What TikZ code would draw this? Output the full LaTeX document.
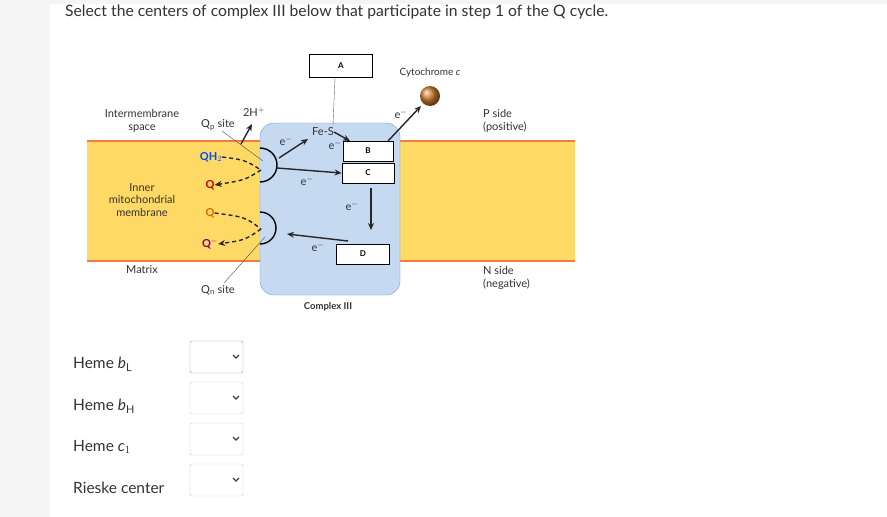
\documentclass[tikz,border=0pt]{standalone}
\usepackage{fontspec}
\setmainfont{Lato}
\usetikzlibrary{arrows.meta}
\definecolor{memb}{HTML}{FFD966}
\definecolor{orl}{HTML}{F47C3C}
\definecolor{cx}{HTML}{C5DAF0}
\definecolor{cxb}{HTML}{6A9FCF}
\definecolor{txt}{HTML}{333333}
\begin{document}
\begin{tikzpicture}[x=1pt,y=-1pt,
  lab/.style={font=\fontsize{11}{12.5}\selectfont,text=txt,align=center,inner sep=0},
  smallbox/.style={draw,thick,fill=white,font=\fontsize{8}{9}\selectfont\bfseries,inner sep=0},
  arr/.style={-{Stealth[length=7pt,width=6pt]},line width=1.4pt,black!85},
  dsh/.style={line width=1.4pt,dash pattern=on 4pt off 3pt,black!85},
  darr/.style={dsh,-{Stealth[length=7pt,width=6pt]}},
  dd/.style={draw=black!20,rounded corners=2pt,minimum width=53pt,minimum height=32pt,inner sep=0},
  q/.style={font=\fontsize{11}{12}\selectfont\bfseries,inner sep=0},
  big/.style={font=\fontsize{15.5}{17}\selectfont,text=txt,inner sep=0,anchor=west}]
\useasboundingbox (0,0) rectangle (887,517);
\fill[black!4] (0,0) rectangle (887,517);
\fill[white] (50,4) rectangle (887,517);
\node[anchor=west,font=\fontsize{15.7}{17}\selectfont,text=txt,inner sep=0] (title) at (65,12) {Select the centers of complex III below that participate in step 1 of the Q cycle.};
% membrane
\fill[memb] (87,140) rectangle (575,262);
\draw[orl,line width=2.5pt] (87,141) -- (575,141) (87,261) -- (575,261);
% complex III
\draw[cxb,fill=cx,rounded corners=14pt] (260,123) rectangle (400,295);
\draw[line width=1.4pt,fill=cx] (260,148) arc[start angle=-90,end angle=90,radius=17];
\draw[line width=1.4pt,fill=cx] (260,212) arc[start angle=-90,end angle=90,radius=16];
\node[lab,font=\fontsize{9.5}{11}\selectfont\bfseries] (cIII) at (328,307) {Complex III};
% boxes
\node[smallbox,minimum width=63pt,minimum height=23pt] (A) at (341,66) {A};
\node[smallbox,minimum width=50pt,minimum height=20pt] (B) at (368,151) {B};
\node[smallbox,minimum width=52pt,minimum height=20pt] (C) at (368,173) {C};
\node[smallbox,minimum width=53pt,minimum height=20pt] (D) at (363,254) {D};
\draw[black!60] (A.south) ++(-6,0) -- (333,125);
% cytochrome c
\shade[ball color=brown!70!orange] (430,96) circle (10);
\node[lab,font=\fontsize{10}{11}\selectfont] (cyt) at (430,73) {Cytochrome \textit{c}};
\coordinate (cytc) at (421,106);
\draw[arr] (388,141) -- (cytc);
\node[lab] (e0) at (401,114) {e$^-$};
% Fe-S
\node[lab] (fes) at (323,132) {Fe-S};
\draw[arr] (fes.east) -- (350,141);
\node[lab] (e1) at (335,145) {e$^-$};
\draw[arr] (279,158) -- (308,139);
\node[lab] (e2) at (286,141) {e$^-$};
\draw[arr] (277,168) -- (C.west);
\node[lab] (e3) at (307,181) {e$^-$};
\draw[arr] (371,188) -- (371,230);
\node[lab] (e4) at (352,206) {e$^-$};
\draw[arr] (348,241) -- (287,234);
\node[lab] (e5) at (318,247) {e$^-$};
% H+
\node[lab] (h) at (254,112) {2H$^+$};
\draw[arr] (241,144) -- (252,124);
% sites
\node[lab] (qp) at (218,125) {Q$_\mathrm{p}$ site};
\draw[black!70] (222,131) -- (263,161);
\node[lab] (qn) at (218,290) {Q$_\mathrm{n}$ site};
\draw[black!70] (224,283) -- (265,237);
% Q species
\node[q,text=blue!70!cyan] (qh2) at (211,157) {QH$_2$};
\node[q,text=red!80!black] (q1) at (210,185) {Q};
\node[q,text=orange!85!black] (q2) at (210,213) {Q};
\node[q,text=violet] (q3) at (210,244) {Q$^-$};
\draw[dsh] (qh2.east) .. controls (245,160) .. (261,170);
\draw[darr] (261,170) .. controls (245,180) .. (q1.east);
\draw[dsh] (q2.east) .. controls (245,217) .. (261,229);
\draw[darr] (261,229) .. controls (245,240) .. (q3.east);
% side labels
\node[lab] (ims) at (142,121) {Intermembrane\\space};
\node[lab] (imm) at (142,200) {Inner\\mitochondrial\\membrane};
\node[lab] (mat) at (142,270) {Matrix};
\node[lab,align=left,anchor=west] (ps) at (483,121) {P side\\(positive)};
\node[lab,align=left,anchor=west] (ns) at (483,278) {N side\\(negative)};
% bottom
\node[big] (l1) at (73,364) {Heme \textit{b}$_\mathrm{L}$};
\node[big] (l2) at (73,406) {Heme \textit{b}$_\mathrm{H}$};
\node[big] (l3) at (73,447) {Heme \textit{c}$_1$};
\node[big] (l4) at (73,488) {Rieske center};
\foreach \n/\y/\c in {d1/357/blue!45,d2/398/black!20,d3/439/black!20,d4/480/black!20}{
  \node[dd,draw=\c] (\n) at (216.5,\y) {};
  \draw[line width=1.3pt,black!75] (233,\y-2) -- (236,\y+1) -- (239,\y-2);
}
\end{tikzpicture}
\end{document}
